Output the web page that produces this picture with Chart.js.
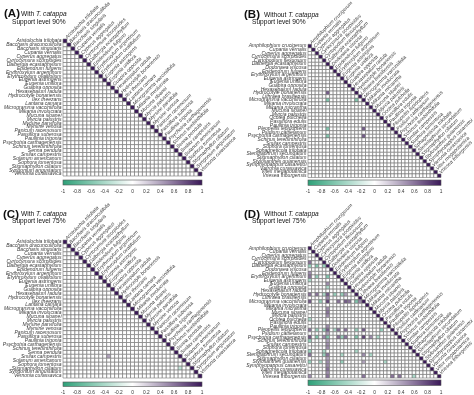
<!DOCTYPE html>
<html>
<head>
<meta charset="utf-8">
<script src="https://cdn.jsdelivr.net/npm/chart.js@4.4.1/dist/chart.umd.min.js"></script>
<style>
  body { margin: 0; background: #fff; width: 474px; height: 395px; position: relative; overflow: hidden; }
  canvas { position: absolute; }
</style>
</head>
<body>
<canvas id="pA" width="237" height="195" style="left:0;top:0"></canvas>
<canvas id="pB" width="237" height="195" style="left:237px;top:0"></canvas>
<canvas id="pC" width="237" height="200" style="left:0;top:195px"></canvas>
<canvas id="pD" width="237" height="200" style="left:237px;top:195px"></canvas>
<script>
// species lists (rows = columns, lower triangle)
const speciesWith = [
  'Aristolochia trilobata', 'Baccharis dracunculifolia', 'Baccharis singularis', 'Cupania vernalis',
  'Cyperus aggregatus', 'Cyrtocymura scorpioides', 'Dalbergia ecastaphyllum', 'Epidendrum fulgens',
  'Erythroxylum argentinum', 'Erythroxylum ovalifolium', 'Eugenia astringens', 'Eugenia uniflora',
  'Guapira opposita', 'Hexasepalum radula', 'Hydrocotyle bonariensis', 'Ilex theezans',
  'Lantana camara', 'Microgramma vacciniifolia', 'Mikania involucrata', 'Mucuna sloanei',
  'Myrcia palustris', 'Myrsine parvifolia', 'Myrsine venosa', 'Panicum racemosum',
  'Passiflora suberosa', 'Paullinia trigonia', 'Psychotria carthagenensis', 'Schinus terebinthifolia',
  'Senna pendula', 'Smilax campestris', 'Solanum americanum', 'Sophora tomentosa',
  'Stigmaphyllon ciliatum', 'Syngonium angustatum', 'Vernonia curassavica'
];
const speciesWithout = [
  'Amphilophium crucigerum', 'Cupania vernalis', 'Cyperus aggregatus', 'Cyrtocymura scorpioides',
  'Cyrtopodium flexuosum', 'Dalbergia ecastaphyllum', 'Dodonaea viscosa', 'Epidendrum fulgens',
  'Erythroxylum argentinum', 'Eugenia astringens', 'Eugenia uniflora', 'Guapira opposita',
  'Hexasepalum radula', 'Hydrocotyle bonariensis', 'Lithraea brasiliensis', 'Microgramma vacciniifolia',
  'Mikania involucrata', 'Mikania micrantha', 'Mucuna sloanei', 'Myrcia palustris',
  'Ocotea pulchella', 'Passiflora edulis', 'Paullinia trigonia', 'Pleopeltis lepidopteris',
  'Psidium cattleianum', 'Psychotria carthagenensis', 'Schinus terebinthifolia', 'Smilax campestris',
  'Sophora tomentosa', 'Sphagneticola trilobata', 'Stenotaphrum secundatum', 'Stigmaphyllon ciliatum',
  'Stylosanthes guianensis', 'Symphyopappus casarettoi', 'Varronia curassavica', 'Vitex megapotamica',
  'Vriesea friburgensis'
];

// off-diagonal correlations [row, col, r]; diagonal = 1, everything else 0
const cellsA = [];
const cellsB = [
  [13, 5, 0.7], [15, 5, -0.6], [15, 13, -0.6],
  [23, 5, -0.6], [23, 15, 0.7], [25, 5, -0.6], [25, 15, 0.7]
];
const cellsC = [[29, 11, 0.4], [32, 29, -0.3]];
const cellsD = [
  [4, 0, 0.6], [5, 0, -0.5], [5, 2, -0.6], [5, 4, -0.5],
  [7, 0, 0.5], [8, 0, 0.6], [8, 2, -0.5], [8, 5, -0.6], [9, 0, -0.4],
  [10, 5, 0.5], [11, 5, -0.4],
  [13, 0, 0.6], [13, 2, 0.6], [13, 4, -0.4], [13, 5, 0.7], [13, 7, -0.5], [13, 9, -0.5], [13, 10, 0.4],
  [14, 5, 0.5],
  [15, 0, 0.7], [15, 3, -0.5], [15, 5, 0.8], [15, 8, 0.6], [15, 10, 0.7], [15, 11, 0.6], [15, 13, -0.6], [15, 14, 0.5],
  [17, 5, 0.5], [18, 5, 0.6], [19, 5, 0.5], [20, 0, -0.4], [22, 5, 0.5],
  [23, 0, 0.6], [23, 2, -0.5], [23, 4, -0.5], [23, 5, 0.7], [23, 7, -0.4], [23, 8, 0.6], [23, 10, 0.6],
  [23, 13, -0.5], [23, 15, 0.7], [23, 20, -0.5],
  [24, 5, 0.4],
  [25, 0, 0.7], [25, 2, -0.6], [25, 4, 0.5], [25, 5, -0.6], [25, 8, 0.6], [25, 9, -0.5], [25, 10, 0.6],
  [25, 13, -0.6], [25, 15, 0.8], [25, 17, 0.5], [25, 19, -0.4],
  [26, 0, -0.5], [26, 5, 0.4], [27, 5, 0.5], [28, 5, 0.5],
  [29, 0, -0.5], [29, 4, -0.4], [29, 13, -0.4],
  [30, 0, 0.6], [30, 4, -0.5], [30, 5, 0.6], [30, 9, -0.4], [30, 15, 0.5], [30, 17, -0.4],
  [31, 5, 0.4],
  [32, 0, -0.5], [32, 3, -0.4], [32, 5, 0.5], [32, 9, -0.5], [32, 15, 0.4], [32, 21, -0.4],
  [33, 5, 0.5], [34, 5, 0.6], [35, 5, 0.5],
  [36, 0, 0.5], [36, 5, 0.6], [36, 15, 0.6], [36, 23, 0.6], [36, 25, 0.6], [36, 29, -0.4]
];
const colorTicks = [-1, -0.8, -0.6, -0.4, -0.2, 0, 0.2, 0.4, 0.6, 0.8, 1];

const FONT = "'Liberation Sans', Arial, sans-serif";
const GREEN = [46, 160, 120], PURPLE = [58, 24, 88];

function cellColor(v) {
  const c = v < 0 ? GREEN : PURPLE, t = Math.min(1, Math.abs(v));
  const m = c.map(k => Math.round(255 + (k - 255) * t));
  return `rgb(${m[0]},${m[1]},${m[2]})`;
}

function buildPoints(names, cells) {
  const vals = {};
  cells.forEach(c => vals[c[0] + '_' + c[1]] = c[2]);
  const pts = [];
  names.forEach((rn, i) => {
    for (let j = 0; j <= i; j++) pts.push({ x: names[j], y: rn, v: i === j ? 1 : (vals[i + '_' + j] || 0) });
  });
  return pts;
}

// titles, diagonal column labels and the colour bar
const panelDecor = {
  id: 'panelDecor',
  afterDraw(chart) {
    const p = chart.options.plugins.panelDecor;
    const ctx = chart.ctx, a = chart.chartArea, n = p.names.length;
    const xs = chart.scales.x, ys = chart.scales.y, cb = chart.scales.cb;
    ctx.save();

    // colour bar
    const y0 = a.bottom + p.barGap;
    const g = ctx.createLinearGradient(cb.left, 0, cb.right, 0);
    colorTicks.forEach(v => g.addColorStop((v + 1) / 2, cellColor(v)));
    ctx.fillStyle = g;
    ctx.fillRect(cb.left, y0, cb.right - cb.left, p.barH);
    ctx.strokeStyle = '#555'; ctx.lineWidth = 0.6;
    ctx.strokeRect(cb.left, y0, cb.right - cb.left, p.barH);

    // column labels along the diagonal
    const cw = a.width / n / 2, ch = a.height / n / 2;
    ctx.font = `italic ${p.fs}px ${FONT}`;
    ctx.fillStyle = '#3a3a3a'; ctx.textAlign = 'left'; ctx.textBaseline = 'middle';
    p.names.forEach((nm, j) => {
      ctx.save();
      ctx.translate(xs.getPixelForValue(j) + cw * 0.6, ys.getPixelForValue(j) - ch - 1);
      ctx.rotate(-Math.PI / 4);
      ctx.fillText(nm, 0, 0);
      ctx.restore();
    });

    // panel title
    ctx.fillStyle = '#111'; ctx.textBaseline = 'alphabetic';
    ctx.font = `bold 11.5px ${FONT}`;
    ctx.fillText(p.letter, p.lx, p.ly);
    ctx.font = `6.6px ${FONT}`;
    const pre = p.prefix + ' ';
    ctx.fillText(pre, p.tx, p.ty);
    const w = ctx.measureText(pre).width;
    ctx.font = `italic 6.6px ${FONT}`;
    ctx.fillText('T. catappa', p.tx + w, p.ty);
    ctx.font = `6.6px ${FONT}`;
    ctx.fillText('Support level ' + p.level, p.sx, p.sy);
    ctx.restore();
  }
};

function makePanel(id, p) {
  const canvas = document.getElementById(id);
  const H = canvas.height, W = canvas.width, n = p.names.length;
  const rad = ctx => { const a = ctx.chart.chartArea; return a ? (a.width + a.height) / 2 / n / Math.SQRT2 : 1; };
  new Chart(canvas, {
    type: 'scatter',
    data: {
      datasets: [{
        data: buildPoints(p.names, p.cells),
        pointStyle: 'rect',
        pointRadius: rad,
        pointHoverRadius: rad,
        backgroundColor: ctx => cellColor(ctx.raw ? ctx.raw.v : 0),
        borderColor: '#6e6e6e',
        borderWidth: 0.6
      }]
    },
    options: {
      responsive: false,
      animation: false,
      events: [],
      layout: { padding: { left: 0, top: p.top, right: W - p.right, bottom: 0 } },
      plugins: { legend: { display: false }, tooltip: { enabled: false }, panelDecor: p },
      scales: {
        x: { type: 'category', labels: p.names, offset: true, display: false },
        y: {
          type: 'category', labels: p.names, offset: true, position: 'left',
          grid: { display: false, drawTicks: false }, border: { display: false },
          ticks: { autoSkip: false, padding: 1.5, color: '#3a3a3a', font: { family: FONT, size: p.fs, style: 'italic' } },
          afterFit: s => { s.width = p.left; }
        },
        cb: {
          type: 'linear', position: 'bottom', min: -1, max: 1,
          grid: { display: false, drawTicks: false }, border: { display: false },
          afterBuildTicks: s => { s.ticks = colorTicks.map(v => ({ value: v })); },
          ticks: { autoSkip: false, maxRotation: 0, padding: p.tickPad, color: '#333',
                   font: { family: FONT, size: 4.8 }, callback: v => String(v) },
          afterFit: s => { s.height = H - p.bottom; }
        }
      }
    },
    plugins: [panelDecor]
  });
}

makePanel('pA', { names: speciesWith, cells: cellsA, left: 63, top: 39, right: 202, bottom: 176,
  barGap: 4, barH: 5, tickPad: 13, fs: 5,
  letter: '(A)', prefix: 'With', level: '90%', lx: 4, ly: 17, tx: 21, ty: 16, sx: 12, sy: 23.5 });
makePanel('pB', { names: speciesWithout, cells: cellsB, left: 71, top: 44.3, right: 204, bottom: 177.5,
  barGap: 2.5, barH: 5.3, tickPad: 11.5, fs: 5,
  letter: '(B)', prefix: 'Without', level: '90%', lx: 7, ly: 18, tx: 27, ty: 17, sx: 15, sy: 23.5 });
makePanel('pC', { names: speciesWith, cells: cellsC, left: 63, top: 45, right: 202, bottom: 183,
  barGap: 4, barH: 4.5, tickPad: 12, fs: 5,
  letter: '(C)', prefix: 'With', level: '75%', lx: 3, ly: 23, tx: 21, ty: 21, sx: 12, sy: 27.5 });
makePanel('pD', { names: speciesWithout, cells: cellsD, left: 71, top: 51.5, right: 204, bottom: 183,
  barGap: 2, barH: 5.5, tickPad: 12, fs: 5,
  letter: '(D)', prefix: 'Without', level: '75%', lx: 7, ly: 23, tx: 27, ty: 21, sx: 15, sy: 27.5 });
</script>
</body>
</html>
